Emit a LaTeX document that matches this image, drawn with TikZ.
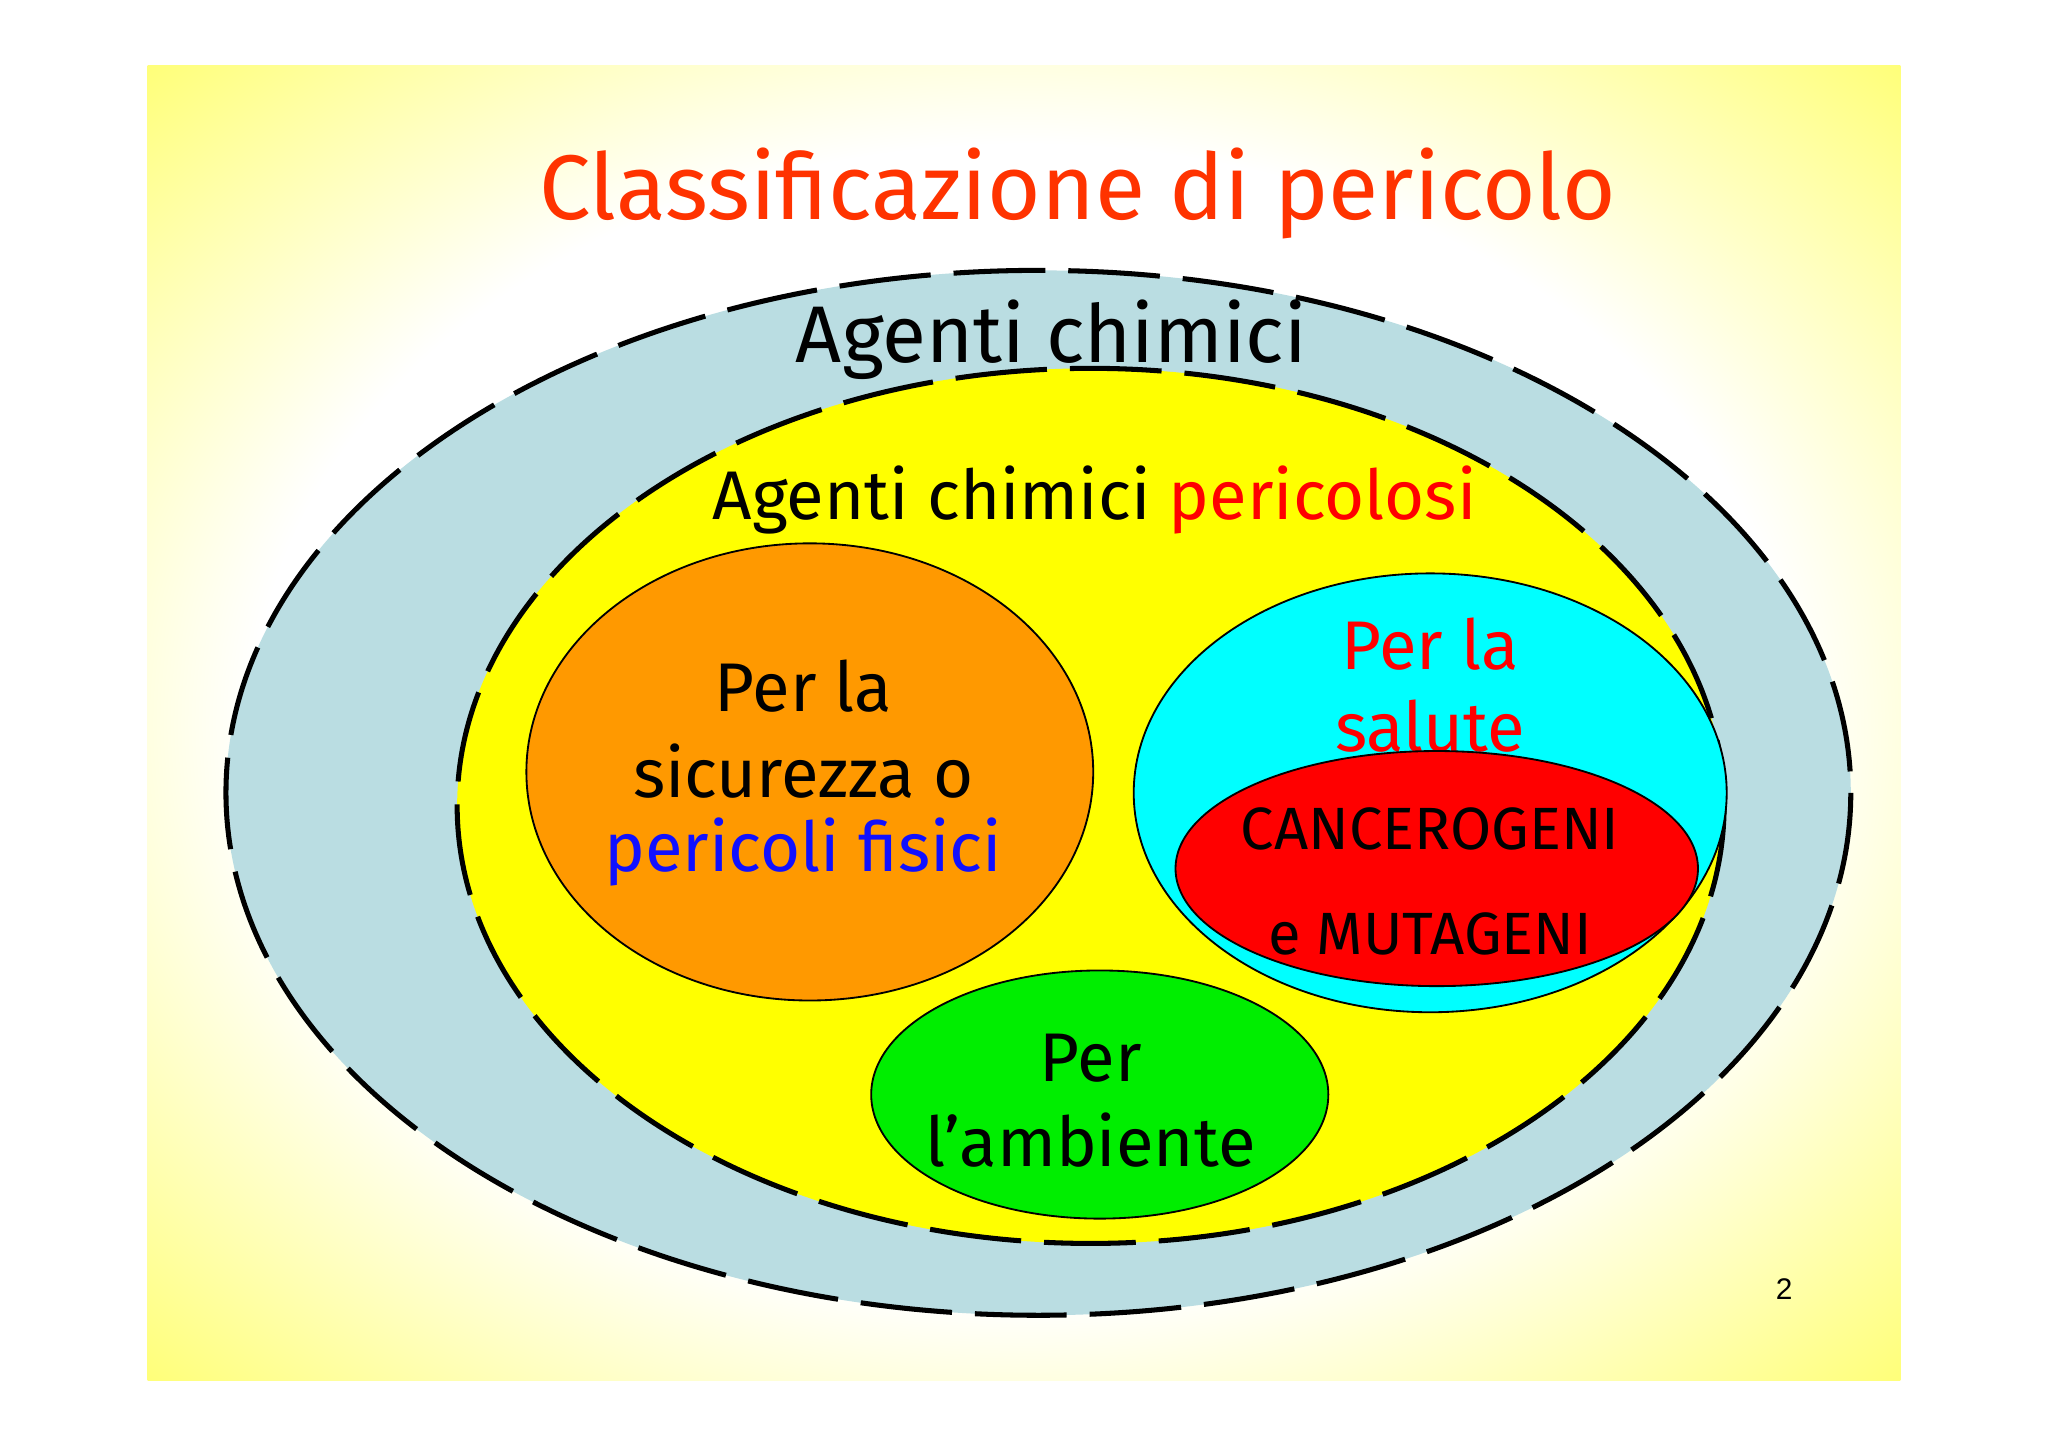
\documentclass[tikz,border=0pt]{standalone}
\usepackage{fontspec}
\setmainfont{Fira Sans}
\newfontfamily\arialf{Liberation Sans}
\definecolor{ttl}{HTML}{FF3300}
\definecolor{lblue}{HTML}{BADDE2}
\definecolor{yel}{HTML}{FFFF00}
\definecolor{orng}{HTML}{FF9900}
\definecolor{cyn}{HTML}{00FFFF}
\definecolor{grn}{HTML}{00EE00}
\definecolor{rd}{HTML}{FF0000}
\definecolor{bl}{HTML}{1010FF}
\pgfdeclareradialshading{slidebg}{\pgfpoint{0bp}{0bp}}{color(0bp)=(white); color(22bp)=(white); color(36bp)=(yellow!55); color(50bp)=(yellow)}
\tikzset{blob/.style={draw=black,line width=0.8pt},
 ring/.style={draw=black,line width=2.2pt,dash pattern=on 40pt off 10pt},
 txt/.style={font=\fontsize{30}{32}\selectfont,inner sep=0pt}}
\begin{document}
\begin{tikzpicture}[x=0.02cm,y=-0.02cm]
\useasboundingbox (0,0) rectangle (1568,1108);
\fill[white] (0,0) rectangle (1568,1108);
\shade[shading=slidebg] (113,50) rectangle (1455,1057);
\fill[lblue] (795,607) ellipse [x radius=622,y radius=400];
\draw[ring] (795,607) ellipse [x radius=622,y radius=400];
\fill[yel] (835,617) ellipse [x radius=485,y radius=335];
\draw[ring] (835,617) ellipse [x radius=485,y radius=335];
\node[txt,text=ttl,font=\fontsize{40}{42}\selectfont] (title) at (825,148) {Classificazione di pericolo};
\node[txt,font=\fontsize{35}{37}\selectfont] (ac) at (805,260) {Agenti chimici};
\node[txt] (acp) at (838,383) {Agenti chimici \textcolor{rd}{pericolosi}};
\draw[blob,fill=orng] (620,591) ellipse [x radius=217,y radius=175];
\node[txt] (o1) at (615,525) {Per la};
\node[txt] (o2) at (615,590) {sicurezza o};
\node[txt,text=bl] (o3) at (615,652) {pericoli fisici};
\draw[blob,fill=cyn] (1095,607) ellipse [x radius=227,y radius=168];
\node[txt,text=rd] (c1) at (1095,493) {Per la};
\node[txt,text=rd] (c2) at (1095,556) {salute};
\draw[blob,fill=rd] (1100,665) ellipse [x radius=200,y radius=90];
\node[txt,font=\fontsize{26}{28}\selectfont] (r1) at (1095,635) {CANCEROGENI};
\node[txt,font=\fontsize{26}{28}\selectfont] (r2) at (1095,715) {e MUTAGENI};
\draw[blob,fill=grn] (842,838) ellipse [x radius=175,y radius=95];
\node[txt] (g1) at (835,810) {Per};
\node[txt] (g2) at (835,873) {l’ambiente};
\node[txt,font=\arialf\fontsize{13}{15}\selectfont] (pn) at (1366,987) {2};
\end{tikzpicture}
\end{document}
